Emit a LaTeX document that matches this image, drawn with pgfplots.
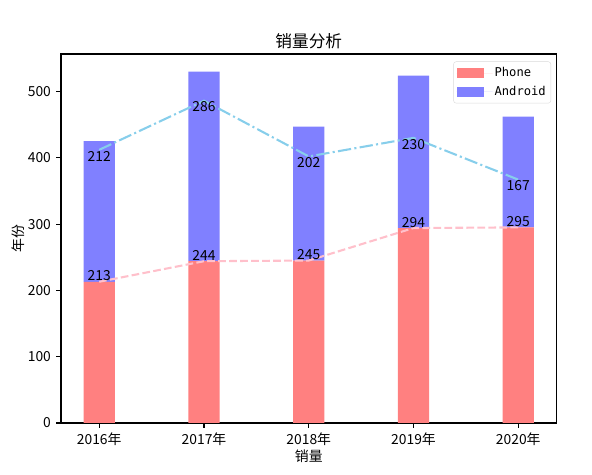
\documentclass[border=0pt]{standalone}
\usepackage{fontspec}
\setmainfont{Noto Sans CJK SC}
\newfontfamily\monof{DejaVu Sans Mono}
\usepackage{pgfplots}
\usepackage{pgfplotstable}
\pgfplotsset{compat=1.18}

\definecolor{c_phone}{HTML}{FF8080}
\definecolor{c_android}{HTML}{8080FF}
\definecolor{c_pink}{HTML}{FFC0CB}
\definecolor{c_sky}{HTML}{87CEEB}

% year  phone  android  android line (android + 200)
\pgfplotstableread{
x phone android aline
0 213 212 412
1 244 286 486
2 245 202 402
3 294 230 430
4 295 167 367
}\sales

\pgfplotsset{
  common/.style={
    at={(61bp,52bp)}, anchor=south west,
    scale only axis, width=495.5bp, height=369bp,
    xmin=-0.365, xmax=4.365, ymin=0, ymax=556.5,
    /pgf/number format/assume math mode=true,
  },
}

\begin{document}
\begin{tikzpicture}[font=\fontsize{13.9}{16}\selectfont]
\path[use as bounding box] (0,0) rectangle (592bp,475bp);
\begin{axis}[
  common,
  ybar stacked, bar width=0.3,
  axis line style={line width=1.1bp},
  tick pos=left, tick align=outside,
  major tick length=4.9bp,
  tick style={line width=1.1bp, black},
  xtick={0,1,2,3,4},
  xticklabels={2016年,2017年,2018年,2019年,2020年},
  ytick={0,100,200,300,400,500},
  xticklabel style={anchor=north, inner sep=0pt, yshift=-5bp},
  yticklabel style={anchor=east, inner sep=0pt, xshift=-5bp},
  title={销量分析},
  title style={at={(axis description cs:0.5,1.019)}, anchor=center,
    font=\fontsize{16.7}{19}\selectfont},
  xlabel={销量},
  xlabel style={at={(axis description cs:0.5,-0.0894)}, anchor=center},
  ylabel={年份},
  ylabel style={at={(axis description cs:-0.0868,0.5)}, anchor=center},
  legend style={at={(axis description cs:1,1)}, anchor=north east,
    xshift=-5.5bp, yshift=-7.5bp, draw=black!15, rounded corners=2.5bp,
    font=\monof\fontsize{12.2}{14}\selectfont,
    row sep=4bp, inner xsep=3bp, inner ysep=4bp},
  legend cell align={left},
  legend image code/.code={
    \fill[#1, sharp corners] (0bp,-4.85bp) rectangle (27.8bp,4.85bp);
    \path (0bp,0bp) -- (36bp,0bp);},
]
\addplot[fill=c_phone, draw=none] table[x=x, y=phone] {\sales};
\addplot[fill=c_android, draw=none] table[x=x, y=android] {\sales};
\legend{Phone, Android}
\end{axis}

\begin{axis}[common, hide axis]
\addplot[c_pink, line width=2.08bp, dash pattern=on 7.7bp off 3.3bp, no marks]
  table[x=x, y=phone] {\sales};
\addplot[c_sky, line width=2.08bp,
  dash pattern=on 13.3bp off 3.3bp on 2.1bp off 3.3bp, no marks]
  table[x=x, y=aline] {\sales};
\addplot[draw=none, no marks, nodes near coords, point meta=explicit,
  every node near coord/.append style={anchor=south, inner sep=0.5bp, black}]
  table[x=x, y=phone, meta=phone] {\sales};
\addplot[draw=none, no marks, nodes near coords, point meta=explicit,
  every node near coord/.append style={anchor=north, inner sep=1bp, black}]
  table[x=x, y=aline, meta=android] {\sales};
\end{axis}
\end{tikzpicture}
\end{document}
